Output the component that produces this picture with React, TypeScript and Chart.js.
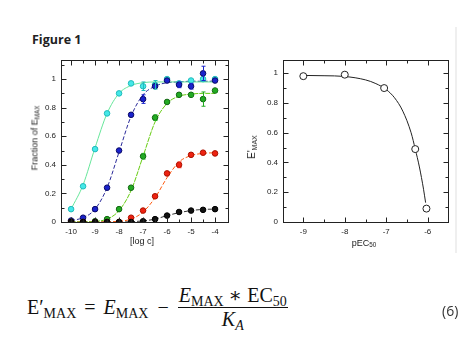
import React, { useEffect, useRef } from "react";
import { Chart, registerables } from "chart.js";
Chart.register(...registerables);

// ---------- Left panel data ----------
const logC = [-10, -9.5, -9, -8.5, -8, -7.5, -7, -6.5, -6, -5.5, -5, -4.5, -4];
const cyanPts = [0.09, 0.25, 0.51, 0.76, 0.9, 0.97, 0.95, 0.96, 1.0, 0.97, 0.99, 1.0, 1.0];
const bluePts = [0.01, 0.03, 0.09, 0.24, 0.5, 0.75, 0.86, 0.95, 0.99, 0.96, 0.95, 1.04, 0.99];
const greenPts = [0, 0, 0.005, 0.02, 0.09, 0.24, 0.46, 0.73, 0.84, 0.89, 0.89, 0.86, 0.92];
const redPts = [0, 0, 0, 0, 0, 0.03, 0.08, 0.18, 0.34, 0.4, 0.47, 0.485, 0.48];
const blackPts = [0, 0, 0, 0, 0, 0, 0.005, 0.02, 0.045, 0.07, 0.08, 0.085, 0.09];

const cyanErr = [0, 0, 0, 0, 0, 0, 0.03, 0.03, 0, 0, 0, 0, 0];
const blueErr = [0, 0, 0, 0, 0, 0, 0.03, 0, 0, 0.02, 0.02, 0.05, 0];
const greenErr = [0, 0, 0, 0, 0, 0, 0.02, 0.02, 0, 0, 0.01, 0.05, 0.01];
const redErr = [0, 0, 0, 0, 0, 0, 0, 0, 0, 0.02, 0, 0, 0];
const blackErr = [0, 0, 0, 0, 0, 0, 0, 0, 0, 0, 0, 0, 0];

// fitted curves
const curveX = [-10, -9.5, -9, -8.5, -8, -7.5, -7, -6.5, -6, -5.5, -5, -4.5, -4];
const cyanCurve = [0.09, 0.26, 0.52, 0.76, 0.9, 0.955, 0.975, 0.98, 0.98, 0.98, 0.98, 0.98, 0.98];
const blueCurve = [0.01, 0.03, 0.09, 0.24, 0.49, 0.74, 0.89, 0.95, 0.975, 0.98, 0.985, 0.985, 0.985];
const greenCurve = [0, 0, 0.004, 0.02, 0.08, 0.22, 0.46, 0.7, 0.83, 0.88, 0.895, 0.9, 0.9];
const redCurve = [0, 0, 0, 0.001, 0.005, 0.02, 0.07, 0.17, 0.31, 0.42, 0.465, 0.48, 0.485];
const blackCurve = [0, 0, 0, 0, 0, 0.002, 0.008, 0.02, 0.045, 0.065, 0.08, 0.088, 0.09];

const leftXTicks = [-10, -9, -8, -7, -6, -5, -4];
const leftXMinor = [-9.5, -8.5, -7.5, -6.5, -5.5, -4.5];
const leftYTicks = [0, 0.2, 0.4, 0.6, 0.8, 1];
const leftYMinor = [0.1, 0.3, 0.5, 0.7, 0.9, 1.1];

// ---------- Right panel data ----------
const pEC50 = [-9, -8, -7.05, -6.3, -6.03];
const emaxPrime = [0.98, 0.99, 0.9, 0.49, 0.09];
const rightCurveX = [-9, -8.5, -8, -7.5, -7.25, -7, -6.8, -6.6, -6.4, -6.3, -6.2, -6.1, -6.05];
const rightCurveY = [0.985, 0.983, 0.978, 0.955, 0.93, 0.89, 0.835, 0.745, 0.6, 0.49, 0.37, 0.22, 0.13];
const rightXTicks = [-9, -8, -7, -6];
const rightXMinor = [-8.5, -7.5, -6.5];
const rightYTicks = [0, 0.2, 0.4, 0.6, 0.8, 1];
const rightYMinor = [0.1, 0.3, 0.5, 0.7, 0.9];

const framePlugin = {
  id: "frameTicks",
  afterDraw(chart: any, _args: any, opts: any) {
    const { ctx, chartArea: a, scales } = chart;
    const x = scales.x;
    const y = scales.y;
    ctx.save();
    ctx.strokeStyle = "#222";
    ctx.lineWidth = 1;
    const L = Math.round(a.left) + 0.5;
    const R = Math.round(a.right) + 0.5;
    const T = Math.round(a.top) + 0.5;
    const B = Math.round(a.bottom) + 0.5;
    ctx.strokeRect(L, T, R - L, B - T);
    const line = (x1: number, y1: number, x2: number, y2: number) => {
      ctx.beginPath();
      ctx.moveTo(x1, y1);
      ctx.lineTo(x2, y2);
      ctx.stroke();
    };
    const xt = (vals: number[], len: number) =>
      vals.forEach((v) => {
        const p = Math.round(x.getPixelForValue(v)) + 0.5;
        line(p, B, p, B - len);
        line(p, T, p, T + len);
      });
    const yt = (vals: number[], len: number) =>
      vals.forEach((v) => {
        const p = Math.round(y.getPixelForValue(v)) + 0.5;
        line(L, p, L + len, p);
        line(R, p, R - len, p);
      });
    xt(opts.xMajor, 5);
    xt(opts.xMinor, 3);
    yt(opts.yMajor, 5);
    yt(opts.yMinor, 3);
    ctx.restore();
  },
};

const errPlugin = {
  id: "errBars",
  afterDatasetsDraw(chart: any, _args: any, opts: any) {
    if (!opts || !opts.sets) return;
    const { ctx, scales } = chart;
    ctx.save();
    ctx.lineWidth = 1;
    opts.sets.forEach((s: any) => {
      ctx.strokeStyle = s.color;
      s.x.forEach((xv: number, i: number) => {
        const e = s.err[i];
        if (!e) return;
        const px = Math.round(scales.x.getPixelForValue(xv)) + 0.5;
        const y1 = scales.y.getPixelForValue(s.y[i] - e);
        const y2 = scales.y.getPixelForValue(s.y[i] + e);
        ctx.beginPath();
        ctx.moveTo(px, y1);
        ctx.lineTo(px, y2);
        ctx.moveTo(px - 2, y1);
        ctx.lineTo(px + 2, y1);
        ctx.moveTo(px - 2, y2);
        ctx.lineTo(px + 2, y2);
        ctx.stroke();
      });
    });
    ctx.restore();
  },
};

const tickFont = { family: '"Liberation Sans", Arial, sans-serif', size: 8 };

function toXY(xs: number[], ys: number[]) {
  return xs.map((v, i) => ({ x: v, y: ys[i] }));
}

function curveDs(ys: number[], color: string, dash: number[]) {
  return {
    type: "line" as const,
    data: toXY(curveX, ys),
    borderColor: color,
    borderWidth: 1,
    borderDash: dash,
    pointRadius: 0,
    cubicInterpolationMode: "monotone" as const,
    fill: false,
    order: 2,
  };
}

function ptsDs(ys: number[], fill: string, border: string) {
  return {
    type: "scatter" as const,
    data: toXY(logC, ys),
    backgroundColor: fill,
    borderColor: border,
    borderWidth: 1,
    pointRadius: 2.8,
    order: 1,
  };
}

function axisCfg(min: number, max: number, ticks: number[], isX: boolean, size: number, pad: number) {
  return {
    type: "linear" as const,
    min,
    max,
    grid: { display: false, drawTicks: false },
    border: { display: false },
    afterBuildTicks: (s: any) => {
      s.ticks = ticks.map((v) => ({ value: v }));
    },
    afterFit: (s: any) => {
      if (isX) s.height = size;
      else s.width = size;
    },
    ticks: {
      font: tickFont,
      color: "#222",
      padding: pad,
      autoSkip: false,
      maxRotation: 0,
      callback: (v: any) => String(v),
    },
  };
}

function LeftChart() {
  const ref = useRef<HTMLCanvasElement>(null);
  useEffect(() => {
    const c = new Chart(ref.current!, {
      type: "scatter",
      data: {
        datasets: [
          curveDs(cyanCurve, "#66e69a", []),
          curveDs(blueCurve, "#2b2b9a", [4, 2]),
          curveDs(greenCurve, "#66cc11", [5, 1]),
          curveDs(redCurve, "#ff5a10", [4, 2]),
          curveDs(blackCurve, "#333333", [4, 2]),
          ptsDs(blackPts, "#111111", "#000000"),
          ptsDs(redPts, "#ee2211", "#aa1100"),
          ptsDs(greenPts, "#22aa22", "#116611"),
          ptsDs(bluePts, "#1a22cc", "#0a0a66"),
          ptsDs(cyanPts, "#44e8e8", "#22bbbb"),
        ] as any,
      },
      options: {
        responsive: false,
        animation: false,
        devicePixelRatio: 1,
        layout: { padding: { top: 8, right: 12, left: 0, bottom: 0 } },
        plugins: {
          legend: { display: false },
          tooltip: { enabled: false },
          frameTicks: { xMajor: leftXTicks, xMinor: leftXMinor, yMajor: leftYTicks, yMinor: leftYMinor },
          errBars: {
            sets: [
              { x: logC, y: cyanPts, err: cyanErr, color: "#22bbbb" },
              { x: logC, y: bluePts, err: blueErr, color: "#1a22cc" },
              { x: logC, y: greenPts, err: greenErr, color: "#22aa22" },
              { x: logC, y: redPts, err: redErr, color: "#ee2211" },
              { x: logC, y: blackPts, err: blackErr, color: "#111" },
            ],
          },
        } as any,
        scales: {
          x: axisCfg(-10.42, -3.46, leftXTicks, true, 28, 5),
          y: axisCfg(0, 1.135, leftYTicks, false, 61, 5),
        },
      },
      plugins: [framePlugin, errPlugin],
    });
    return () => c.destroy();
  }, []);
  return <canvas ref={ref} width={240} height={200} style={{ position: "absolute", left: 0, top: 50 }} />;
}

function RightChart() {
  const ref = useRef<HTMLCanvasElement>(null);
  useEffect(() => {
    const c = new Chart(ref.current!, {
      type: "scatter",
      data: {
        datasets: [
          {
            type: "line",
            data: toXY(rightCurveX, rightCurveY),
            borderColor: "#222",
            borderWidth: 1,
            pointRadius: 0,
            cubicInterpolationMode: "monotone",
            fill: false,
            order: 2,
          },
          {
            type: "scatter",
            data: toXY(pEC50, emaxPrime),
            backgroundColor: "#ffffff",
            borderColor: "#222",
            borderWidth: 1,
            pointRadius: 3.5,
            order: 1,
          },
        ] as any,
      },
      options: {
        responsive: false,
        animation: false,
        devicePixelRatio: 1,
        layout: { padding: { top: 7, right: 26, left: 0, bottom: 0 } },
        plugins: {
          legend: { display: false },
          tooltip: { enabled: false },
          frameTicks: { xMajor: rightXTicks, xMinor: rightXMinor, yMajor: rightYTicks, yMinor: rightYMinor },
        } as any,
        scales: {
          x: axisCfg(-9.49, -5.51, rightXTicks, true, 28, 5),
          y: axisCfg(0, 1.09, rightYTicks, false, 43, 5),
        },
      },
      plugins: [framePlugin],
    });
    return () => c.destroy();
  }, []);
  return <canvas ref={ref} width={234} height={200} style={{ position: "absolute", left: 240, top: 50 }} />;
}

const sans = '"Liberation Sans", Arial, sans-serif';
const subS: React.CSSProperties = { fontSize: "0.7em", verticalAlign: "-0.3em", lineHeight: 0 };

function Label(props: { x: number; y: number; rot?: boolean; children: React.ReactNode; size?: number }) {
  return (
    <div
      style={{
        position: "absolute",
        left: props.x,
        top: props.y,
        transform: `translate(-50%, -50%)${props.rot ? " rotate(-90deg)" : ""}`,
        whiteSpace: "nowrap",
        fontFamily: sans,
        fontSize: props.size || 9,
        color: "#222",
        lineHeight: 1,
      }}
    >
      {props.children}
    </div>
  );
}

const mSub: React.CSSProperties = { fontSize: 14, fontStyle: "normal", verticalAlign: "-0.25em", lineHeight: 0 };

export default function App() {
  return (
    <div style={{ position: "absolute", left: 0, top: 0, width: 474, height: 358, background: "#fff", overflow: "hidden" }}>
      <div
        style={{
          position: "absolute",
          left: 32,
          top: 33,
          fontFamily: '"Open Sans", sans-serif',
          fontWeight: 700,
          fontSize: 12.5,
          lineHeight: "13px",
          color: "#222",
        }}
      >
        Figure 1
      </div>
      <LeftChart />
      <RightChart />
      <Label x={35} y={138} rot>
        Fraction of E<span style={subS}>MAX</span>
      </Label>
      <Label x={142} y={241}>[log c]</Label>
      <Label x={252} y={147} rot size={10}>
        E'<span style={subS}>MAX</span>
      </Label>
      <Label x={364} y={243}>
        pEC<span style={subS}>50</span>
      </Label>
      <div style={{ position: "absolute", left: 455, top: 27, width: 2, height: 226, background: "#efefef" }} />
      <div
        style={{
          position: "absolute",
          left: 27,
          top: 285,
          display: "flex",
          alignItems: "center",
          fontFamily: '"Liberation Serif", "DejaVu Serif", serif',
          fontSize: 20,
          color: "#111",
          whiteSpace: "nowrap",
        }}
      >
        <span>
          E′<span style={mSub}>MAX</span>
        </span>
        <span style={{ margin: "0 8px" }}>=</span>
        <span>
          <i>E</i>
          <span style={mSub}>MAX</span>
        </span>
        <span style={{ margin: "0 9px" }}>−</span>
        <span style={{ display: "inline-flex", flexDirection: "column", alignItems: "center" }}>
          <span style={{ borderBottom: "1px solid #111", padding: "0 1px 2px", lineHeight: "20px" }}>
            <i>E</i>
            <span style={mSub}>MAX</span>
            <span style={{ margin: "0 5px" }}>∗</span>EC<span style={mSub}>50</span>
          </span>
          <span style={{ lineHeight: "20px", paddingTop: 1 }}>
            <i>K</i>
            <span style={{ ...mSub, fontStyle: "italic" }}>A</span>
          </span>
        </span>
      </div>
      <div
        style={{
          position: "absolute",
          left: 442,
          top: 303,
          fontFamily: '"Open Sans", sans-serif',
          fontSize: 14,
          lineHeight: "16px",
          color: "#333",
        }}
      >
        (6)
      </div>
    </div>
  );
}
